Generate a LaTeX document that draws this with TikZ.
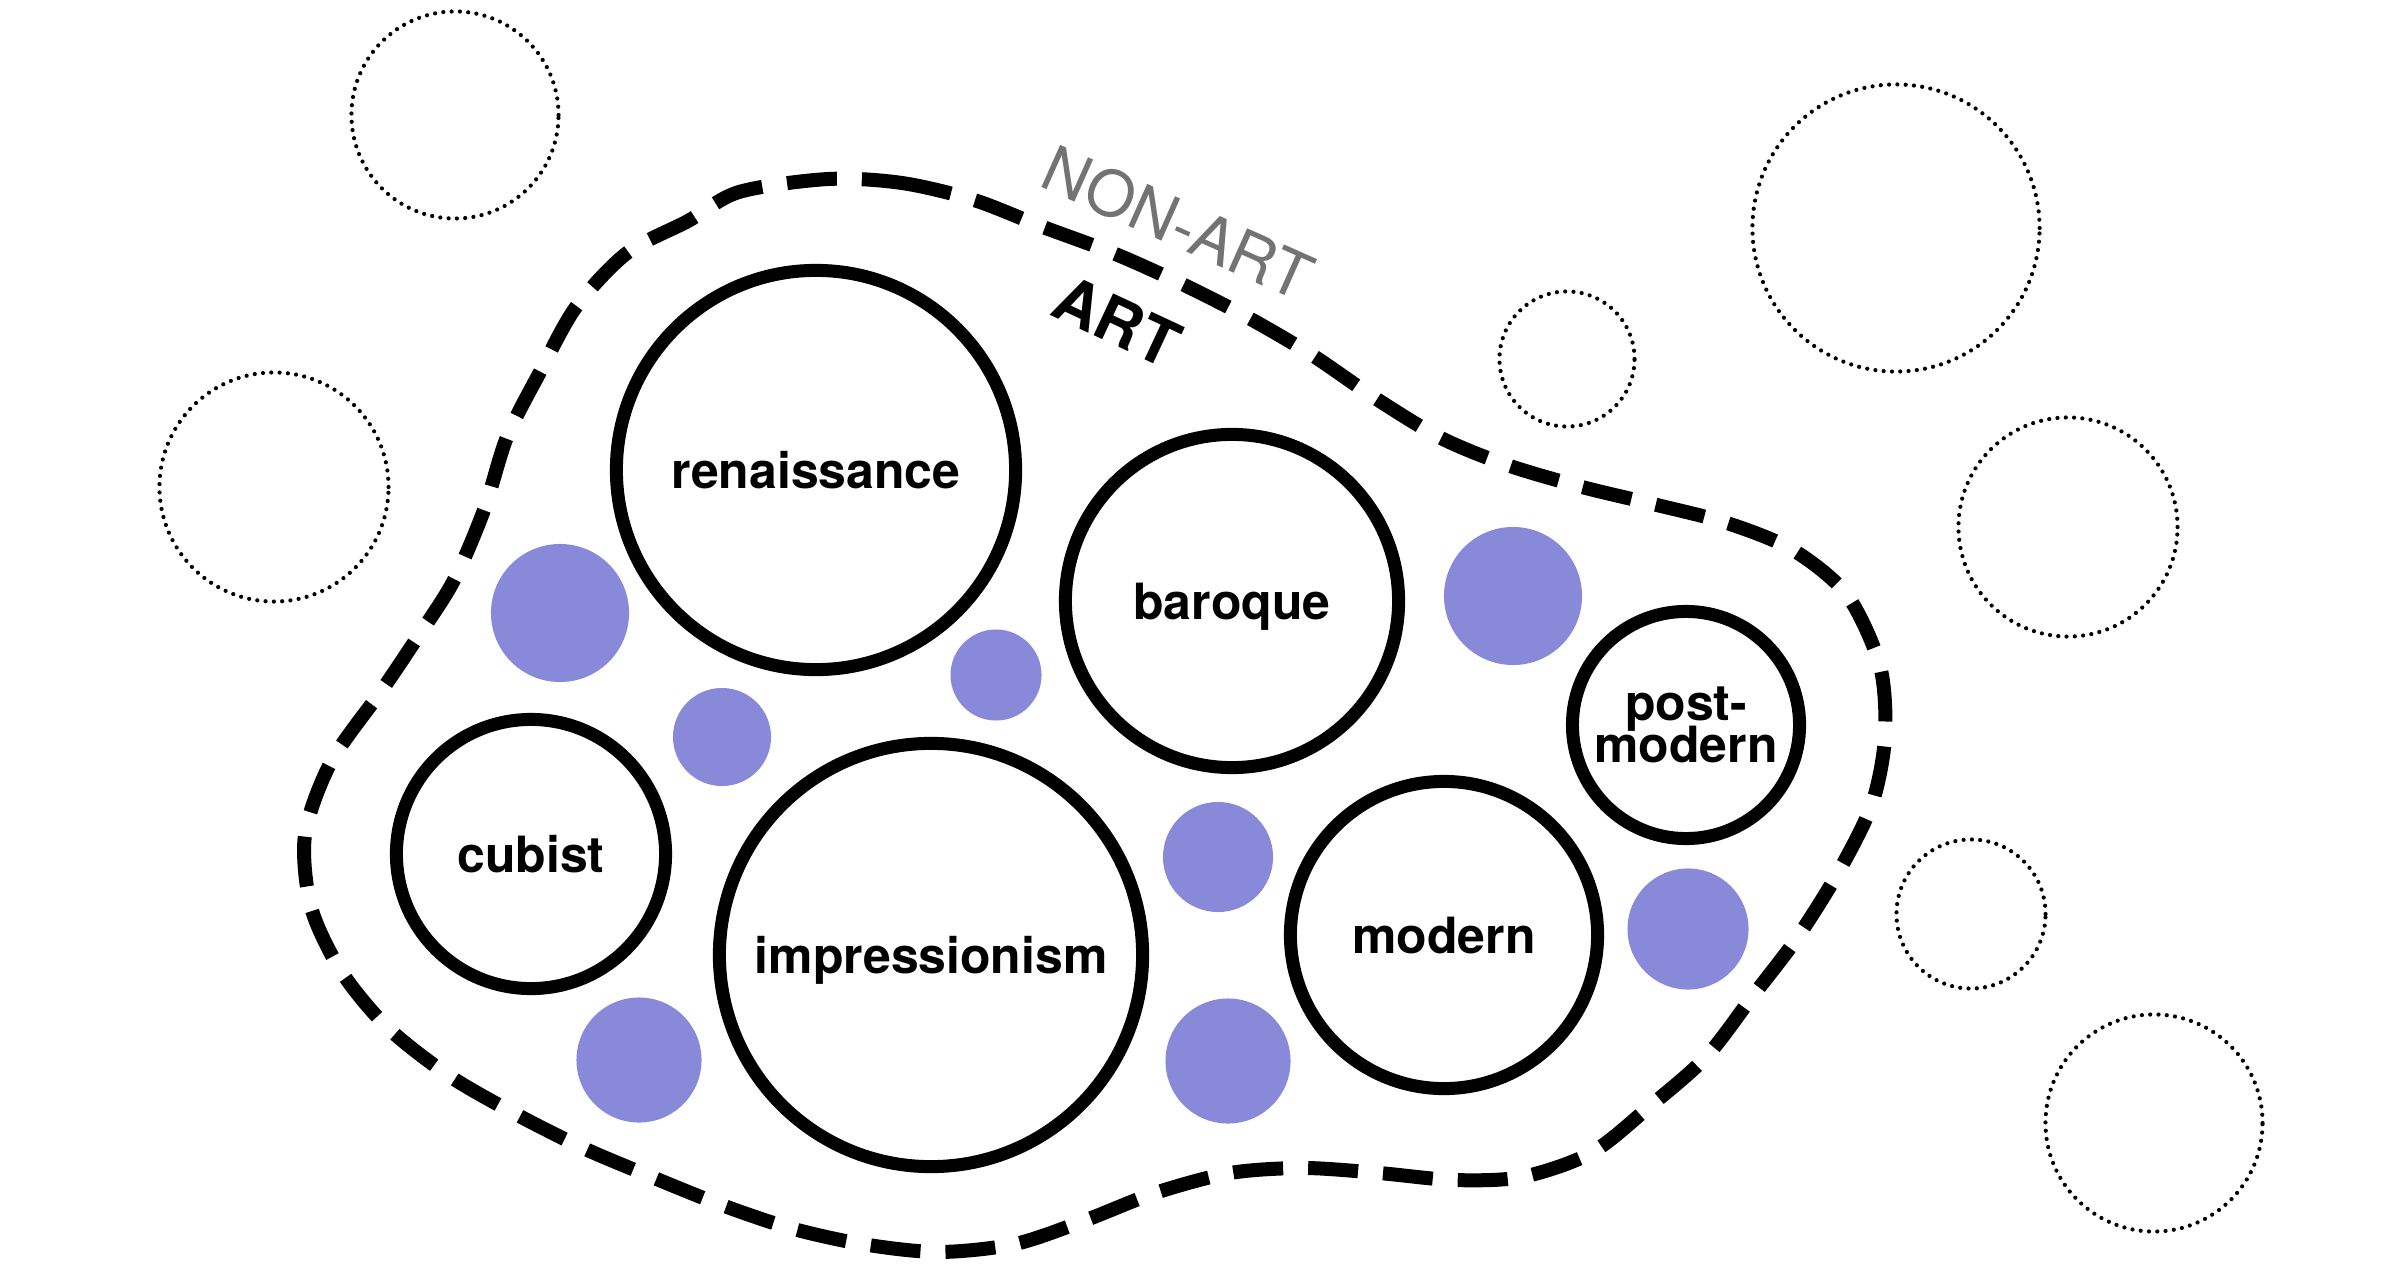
\documentclass[tikz,border=0pt]{standalone}
\usepackage{fontspec}
\setmainfont{TeX Gyre Heros}
\definecolor{blobfill}{RGB}{137,137,218}
\begin{document}
\begin{tikzpicture}[x=0.01cm,y=-0.01cm,
  era/.style={circle,draw,line width=0.13cm,inner sep=0pt,align=center,text depth=0pt,
    font=\bfseries\fontsize{14.2}{11.7}\selectfont},
  filler/.style={circle,fill=blobfill,inner sep=0pt},
  ghost/.style={circle,draw,inner sep=0pt,line width=0.042cm,line cap=round,
    dash pattern=on 0pt off 0.083cm}]
  \useasboundingbox (0,0) rectangle (2400,1279);
  % the art boundary
  \draw[line width=0.14cm,dash pattern=on 0.5cm off 0.25cm] plot[smooth cycle] coordinates {
    (828,179) (902,183) (974,200) (1043,227) (1113,253) (1180,283) (1247,317) (1312,355)
    (1375,398) (1441,438) (1507,465) (1582,487) (1657,505) (1727,523) (1793,550) (1847,595)
    (1880,666) (1885,737) (1872,804) (1839,871) (1797,938) (1752,997) (1706,1057) (1649,1107)
    (1591,1153) (1522,1177) (1453,1180) (1379,1173) (1304,1168) (1230,1173) (1155,1193)
    (1086,1220) (1015,1244) (938,1252) (862,1244) (790,1228) (719,1204) (647,1175) (581,1147)
    (510,1111) (448,1075) (387,1027) (341,971) (311,907) (305,835) (331,762) (382,690)
    (413,644) (453,582) (484,510) (507,437) (540,372) (576,307) (627,253) (688,221) (739,192)};
  \node[rotate=-24,text=black!55,font=\fontsize{18}{18}\selectfont] (nonart) at (1178,223) {NON-ART};
  \node[rotate=-25,font=\bfseries\fontsize{18}{18}\selectfont] (art) at (1117,321) {ART};
  % movements
  \node[era,minimum size=3.99cm] (ren) at (816,470) {renaissance};
  \node[era,minimum size=3.33cm] (bar) at (1232,601) {baroque};
  \node[era,minimum size=2.27cm] (post) at (1686,725) {post-\\[-2.5pt]modern};
  \node[era,minimum size=2.69cm] (cub) at (531,854) {cubist};
  \node[era,minimum size=4.23cm] (imp) at (931,955) {impressionism};
  \node[era,minimum size=3.07cm] (mod) at (1444,935) {modern};
  % purple fillers
  \node[filler,minimum size=1.38cm] (f1) at (560,613) {};
  \node[filler,minimum size=0.98cm] (f2) at (722,737) {};
  \node[filler,minimum size=0.91cm] (f3) at (996,675) {};
  \node[filler,minimum size=1.38cm] (f4) at (1513,596) {};
  \node[filler,minimum size=1.10cm] (f5) at (1218,857) {};
  \node[filler,minimum size=1.21cm] (f6) at (1688,929) {};
  \node[filler,minimum size=1.25cm] (f7) at (639,1060) {};
  \node[filler,minimum size=1.25cm] (f8) at (1228,1061) {};
  % empty rings outside
  \node[ghost,minimum size=2.07cm] (g1) at (455,115) {};
  \node[ghost,minimum size=2.29cm] (g2) at (274,487) {};
  \node[ghost,minimum size=2.87cm] (g3) at (1896,228) {};
  \node[ghost,minimum size=1.35cm] (g4) at (1567,359) {};
  \node[ghost,minimum size=2.19cm] (g5) at (2068,527) {};
  \node[ghost,minimum size=1.49cm] (g6) at (1971,914) {};
  \node[ghost,minimum size=2.17cm] (g7) at (2154,1123) {};
\end{tikzpicture}
\end{document}
